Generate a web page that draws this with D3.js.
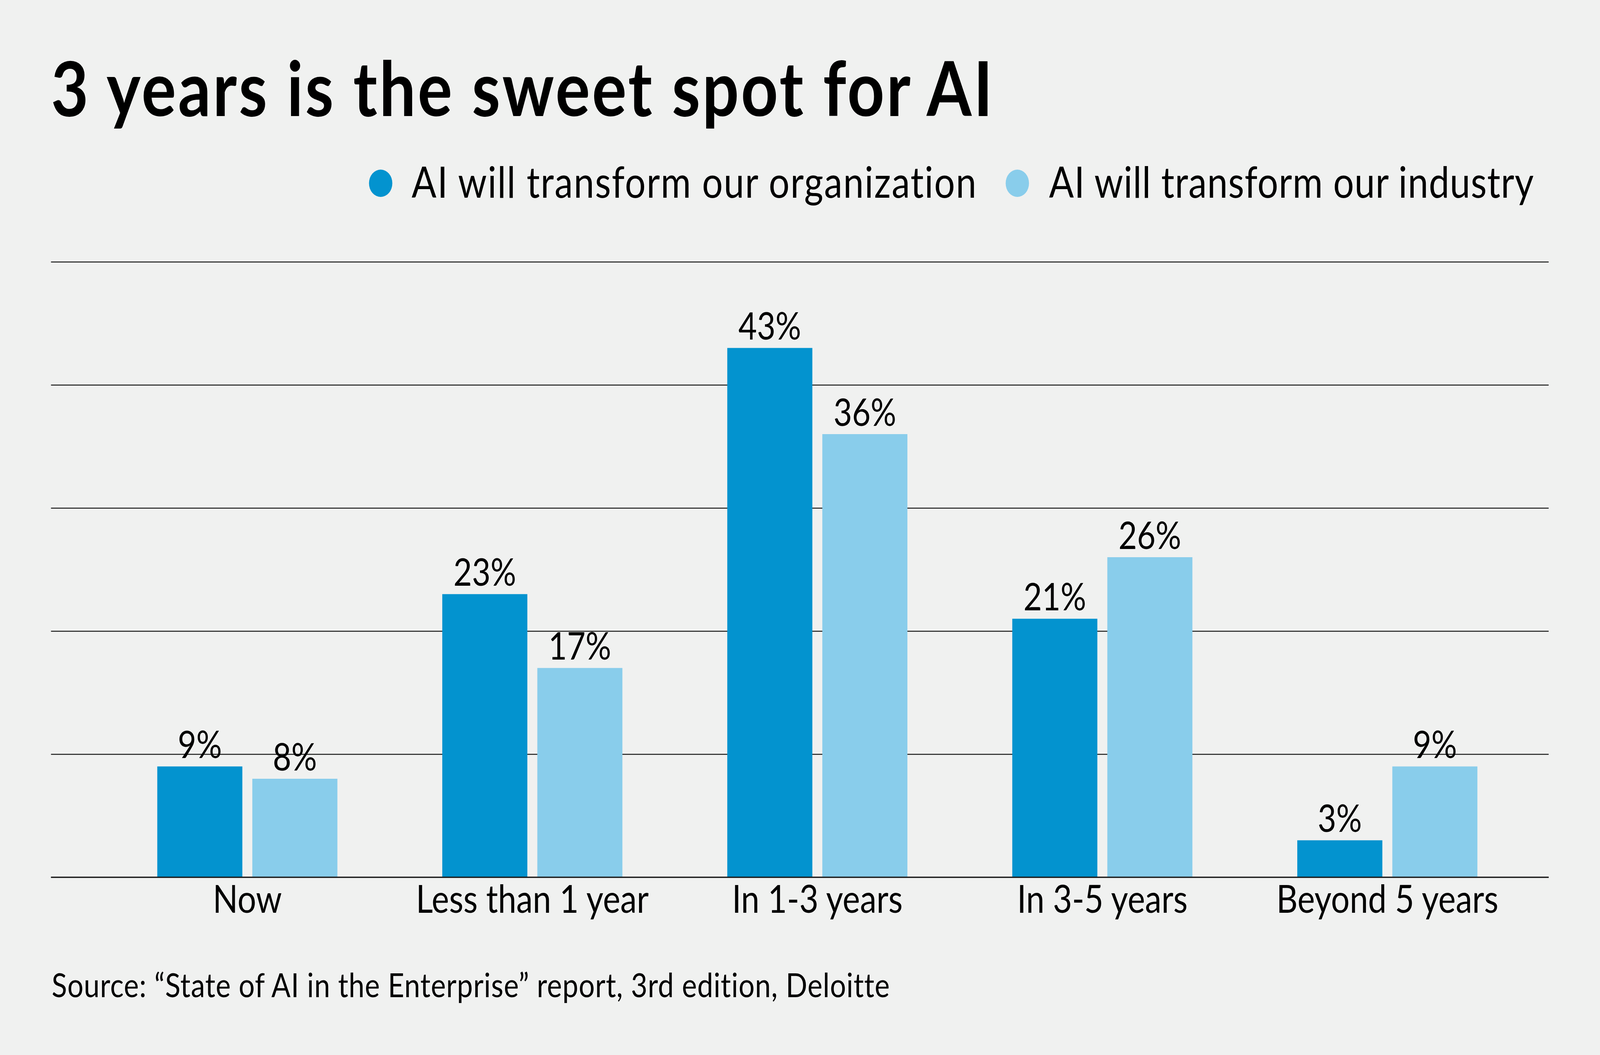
<!DOCTYPE html>
<html>
<head>
<meta charset="utf-8">
<script src="https://cdn.jsdelivr.net/npm/d3@7"></script>
<style>
  html, body { margin: 0; padding: 0; background: #F0F1F0; overflow: hidden; }
  svg { display: block; width: 100vw; height: 100vh; }
  text { font-family: Lato, "Open Sans", sans-serif; fill: #000; font-variant-ligatures: none; font-feature-settings: "liga" 0, "clig" 0; }
</style>
</head>
<body>
<script>
const categories = ["Now", "Less than 1 year", "In 1-3 years", "In 3-5 years", "Beyond 5 years"];
const seriesNames = ["AI will transform our organization", "AI will transform our industry"];
const organizationValues = [9, 23, 43, 21, 3];
const industryValues = [8, 17, 36, 26, 9];
const gridTicks = [0, 10, 20, 30, 40, 50];
const seriesColors = ["#0393CF", "#89CDEB"];
const titleText = "3 years is the sweet spot for AI";
const sourceText = "Source: \u201CState of AI in the Enterprise\u201D report, 3rd edition, Deloitte";

// Chart is laid out on a 4800x2700 canvas and stretched to fill the window.
const W = 4800, H = 2700;
const svg = d3.select("body").append("svg")
  .attr("viewBox", `0 0 ${W} ${H}`)
  .attr("preserveAspectRatio", "none");
svg.append("rect").attr("width", W).attr("height", H).attr("fill", "#F0F1F0");

function fitWidth(sel, target) {
  const node = sel.node();
  const len = node.getComputedTextLength();
  const n = node.textContent.length;
  if (n > 1) sel.attr("letter-spacing", (target - len) / (n - 1));
}

const data = categories.map((c, i) => ({
  category: c,
  values: [
    { series: seriesNames[0], value: organizationValues[i] },
    { series: seriesNames[1], value: industryValues[i] }
  ]
}));

const x0 = d3.scaleBand().domain(categories).range([314.5, 4589.5]).paddingInner(0.368).paddingOuter(0.184);
const x1 = d3.scaleBand().domain(seriesNames).range([0, x0.bandwidth()]).paddingInner(0.105).paddingOuter(0);
const y = d3.scaleLinear().domain([0, 50]).range([2245, 670]);
const color = d3.scaleOrdinal().domain(seriesNames).range(seriesColors);

// Title
const title = svg.append("text").attr("x", 153).attr("y", 297)
  .attr("font-size", 194).attr("font-weight", 700).text(titleText);
fitWidth(title, 2825);

// Legend
const legendItems = [
  { name: seriesNames[0], cx: 1142, tx: 1235, w: 1694 },
  { name: seriesNames[1], cx: 3052, tx: 3147, w: 1454 }
];
const lg = svg.append("g");
legendItems.forEach(d => {
  lg.append("circle").attr("cx", d.cx).attr("cy", 469).attr("r", 35).attr("fill", color(d.name));
  const t = lg.append("text").attr("x", d.tx).attr("y", 506).attr("font-size", 110).text(d.name);
  fitWidth(t, d.w);
});

// Gridlines via axis
const yAxis = d3.axisLeft(y).tickValues(gridTicks).tickSize(-(4646 - 153)).tickFormat("");
const gAxis = svg.append("g").attr("transform", "translate(153,0)").call(yAxis);
gAxis.select(".domain").remove();
gAxis.selectAll(".tick line").attr("stroke", "#1a1a1a").attr("stroke-width", 2.5);

// Bars
const groups = svg.append("g").selectAll("g").data(data).join("g")
  .attr("transform", d => `translate(${x0(d.category)},0)`);
groups.selectAll("rect").data(d => d.values).join("rect")
  .attr("x", d => x1(d.series))
  .attr("width", x1.bandwidth())
  .attr("y", d => y(d.value))
  .attr("height", d => y(0) - y(d.value))
  .attr("fill", d => color(d.series));
groups.selectAll("text").data(d => d.values).join("text")
  .attr("x", d => x1(d.series) + x1.bandwidth() / 2)
  .attr("y", d => y(d.value) - 21)
  .attr("text-anchor", "middle")
  .attr("font-size", 96)
  .text(d => d.value + "%");

// Baseline drawn above bars
svg.append("line").attr("x1", 153).attr("x2", 4646).attr("y1", y(0)).attr("y2", y(0))
  .attr("stroke", "#1a1a1a").attr("stroke-width", 3);

// Category labels via axis
const xAxis = d3.axisBottom(x0).tickSize(0).tickPadding(0);
const gx = svg.append("g").attr("transform", "translate(0,2336)").call(xAxis);
gx.select(".domain").remove();
gx.selectAll(".tick text").attr("font-size", 99).attr("font-family", "Lato, sans-serif")
  .attr("fill", "#000").attr("dy", 0).attr("y", 0);

// Source
const src = svg.append("text").attr("x", 155).attr("y", 2552).attr("font-size", 85).text(sourceText);
fitWidth(src, 2514);
</script>
</body>
</html>
